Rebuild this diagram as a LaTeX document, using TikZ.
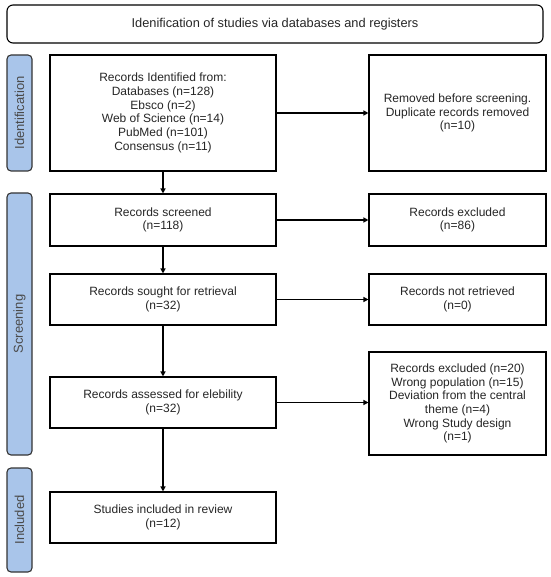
\documentclass[tikz,border=0pt]{standalone}
\usepackage{fontspec}
\setmainfont{Liberation Sans}
\usetikzlibrary{arrows.meta}
\definecolor{sidefill}{HTML}{A9C5EA}
\definecolor{sidetext}{HTML}{4A4A4A}
\definecolor{boxtext}{HTML}{262626}
\tikzset{
  flowbox/.style={draw=black, line width=1.1pt, fill=white, inner sep=2pt, align=center,
    text=boxtext, font=\fontsize{12}{13.7}\selectfont},
  sidebar/.style={draw=sidetext!70!black, line width=1.1pt, fill=sidefill, rounded corners=4pt,
    minimum width=25pt, inner sep=0pt},
  sidelabel/.style={text=sidetext, font=\fontsize{13}{15}\selectfont, rotate=90},
  flowarrow/.style={line width=1.5pt, -{Triangle[length=5pt,width=5pt]}}
}
\begin{document}
\begin{tikzpicture}[x=1pt,y=-1pt]
\useasboundingbox (0,0) rectangle (550,577);
% header
\node[draw=black, line width=1.1pt, rounded corners=6pt, minimum width=536pt, minimum height=38pt,
  text=boxtext, font=\fontsize{12.8}{14}\selectfont] (head) at (275,24) {Idenification of studies via databases and registers};
% side bars
\node[sidebar, minimum height=116pt] (sid) at (19.5,113) {};
\node[sidelabel] (sidl) at (sid.center) {Identification};
\node[sidebar, minimum height=262pt] (sscr) at (19.5,324) {};
\node[sidelabel] (sscrl) at (sscr.center) {Screening};
\node[sidebar, minimum height=104pt] (sinc) at (19.5,520) {};
\node[sidelabel] (sincl) at (sinc.center) {Included};
% left column
\node[flowbox, minimum width=226pt, minimum height=116pt] (ident) at (163,113)
  {Records Identified from:\\Databases (n=128)\\Ebsco (n=2)\\Web of Science (n=14)\\PubMed (n=101)\\Consensus (n=11)};
\node[flowbox, minimum width=226pt, minimum height=52pt] (scr) at (163,220)
  {Records screened\\(n=118)};
\node[flowbox, minimum width=226pt, minimum height=51pt] (sought) at (163,299.5)
  {Records sought for retrieval\\(n=32)};
\node[flowbox, minimum width=226pt, minimum height=51pt] (assess) at (163,402.5)
  {Records assessed for elebility\\(n=32)};
\node[flowbox, minimum width=226pt, minimum height=51pt] (incl) at (163,517.5)
  {Studies included in review\\(n=12)};
% right column
\node[flowbox, minimum width=177pt, minimum height=116pt] (removed) at (457.5,113)
  {Removed before screening.\\Duplicate records removed\\(n=10)};
\node[flowbox, minimum width=177pt, minimum height=52pt] (excl) at (457.5,220)
  {Records excluded\\(n=86)};
\node[flowbox, minimum width=177pt, minimum height=51pt] (notret) at (457.5,299.5)
  {Records not retrieved\\(n=0)};
\node[flowbox, minimum width=177pt, minimum height=103pt] (excl2) at (457.5,403.5)
  {Records excluded (n=20)\\Wrong population (n=15)\\Deviation from the central\\theme (n=4)\\Wrong Study design\\(n=1)};
% arrows
\draw[flowarrow] (ident) -- (scr);
\draw[flowarrow] (scr) -- (sought);
\draw[flowarrow] (sought) -- (assess);
\draw[flowarrow] (assess) -- (incl);
\draw[flowarrow] (ident) -- (removed);
\draw[flowarrow] (scr) -- (excl);
\draw[flowarrow] (sought) -- (notret);
\draw[flowarrow] (assess.east) -- (assess.east -| excl2.west);
\end{tikzpicture}
\end{document}
